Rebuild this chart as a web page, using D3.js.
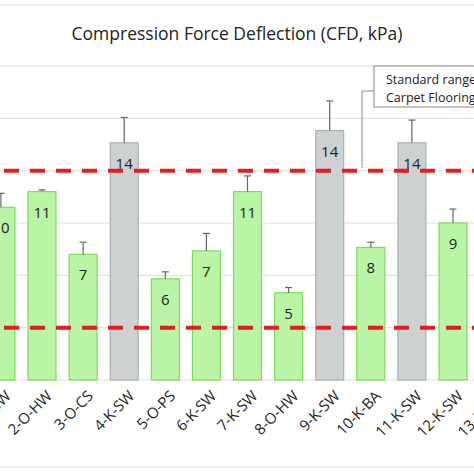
<!DOCTYPE html><html><head><meta charset="utf-8"><script src="https://cdn.jsdelivr.net/npm/d3@7"></script>
<style>body{margin:0;background:#fff}text{font-family:"Open Sans",sans-serif}</style></head><body><script>
const categories=["1-K-SW","2-O-HW","3-O-CS","4-K-SW","5-O-PS","6-K-SW","7-K-SW","8-O-HW","9-K-SW","10-K-BA","11-K-SW","12-K-SW","13-K-SW"];
const values=[9.9,10.8,7.2,13.6,5.8,7.4,10.8,5.0,14.3,7.6,13.6,9.0,10];
const errTop=[10.7,10.9,7.9,15.05,6.2,8.4,11.7,5.3,16.0,7.9,14.9,9.8,11];
const labels=["10","11","7","14","6","7","11","5","14","8","14","9","10"];
const grey=[false,false,false,true,false,false,false,false,true,false,true,false,false];
const yTicks=[0,3,6,9,12,15,18];
const standardRange=[3,12];
const W=474,H=474;
const svg=d3.select("body").append("svg").attr("width",W).attr("height",H);
svg.append("line").attr("x1",0).attr("x2",W).attr("y1",5).attr("y2",5).attr("stroke","#ddd");
svg.append("line").attr("x1",0).attr("x2",W).attr("y1",467).attr("y2",467).attr("stroke","#ddd");
svg.append("text").attr("x",237).attr("y",40).attr("text-anchor","middle").attr("font-size",17.5).attr("fill","#222").text("Compression Force Deflection (CFD, kPa)");
const step=41.1,x0=-19.65;
const x=d3.scaleBand().domain(categories).range([x0,x0+step*categories.length]).paddingInner(0.32).paddingOuter(0.16);
const y=d3.scaleLinear().domain([0,18]).range([380,66]);
svg.append("g").selectAll("line").data(yTicks).join("line").attr("x1",0).attr("x2",W).attr("y1",d=>y(d)).attr("y2",d=>y(d)).attr("stroke","#ddd");
const g=svg.append("g");
g.selectAll("rect").data(categories).join("rect").attr("x",d=>x(d)).attr("width",x.bandwidth())
 .attr("y",(d,i)=>y(values[i])).attr("height",(d,i)=>y(0)-y(values[i]))
 .attr("fill",(d,i)=>grey[i]?"#ccd1d2":"#b9f5a5").attr("stroke",(d,i)=>grey[i]?"#aab0b2":"#7ddb5a").attr("stroke-width",1.2);
categories.forEach((c,i)=>{const cx=x(c)+x.bandwidth()/2;
 g.append("line").attr("x1",cx).attr("x2",cx).attr("y1",y(values[i])).attr("y2",y(errTop[i])).attr("stroke","#666").attr("stroke-width",1.2);
 g.append("line").attr("x1",cx-3.5).attr("x2",cx+3.5).attr("y1",y(errTop[i])).attr("y2",y(errTop[i])).attr("stroke","#666").attr("stroke-width",1.2);
 g.append("text").attr("x",cx).attr("y",y(values[i])+26).attr("text-anchor","middle").attr("font-size",15).attr("fill","#222").text(labels[i]);
 g.append("text").attr("transform",`translate(${cx+11},397) rotate(-45)`).attr("text-anchor","end").attr("font-size",15).attr("fill","#222").text(c);
});
svg.append("g").selectAll("line").data(standardRange).join("line").attr("x1",0).attr("x2",W).attr("y1",d=>y(d)).attr("y2",d=>y(d))
 .attr("stroke","#e0201c").attr("stroke-width",4).attr("stroke-dasharray","15 11").attr("stroke-dashoffset",-4);
svg.append("polyline").attr("points",`375,91 362,91 362,${y(12)-3}`).attr("fill","none").attr("stroke","#888");
svg.append("rect").attr("x",374).attr("y",66).attr("width",120).attr("height",41).attr("fill","#fff").attr("stroke","#888");
svg.append("text").attr("x",386).attr("y",84).attr("font-size",12.5).attr("fill","#222").text("Standard range for");
svg.append("text").attr("x",386).attr("y",102).attr("font-size",12.5).attr("fill","#222").text("Carpet Flooring");
</script></body></html>
